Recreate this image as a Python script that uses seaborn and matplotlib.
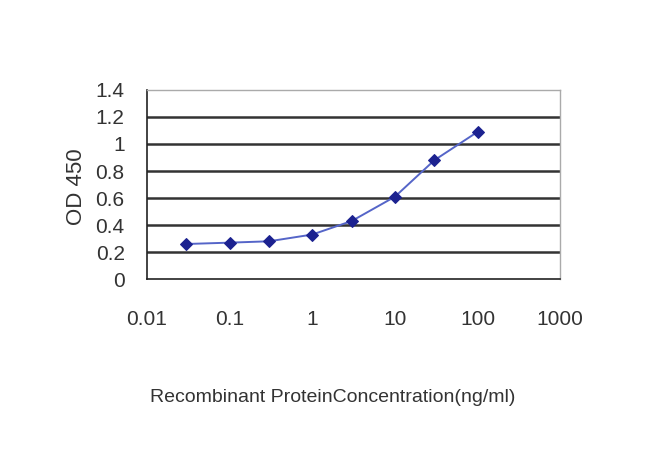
import matplotlib
matplotlib.use("Agg")
from matplotlib import pyplot as plt
import pandas as pd
import seaborn as sns

conc = [0.03, 0.1, 0.3, 1, 3, 10, 30, 100]
od450 = [0.26, 0.27, 0.28, 0.33, 0.43, 0.61, 0.88, 1.09]
xticks = [0.01, 0.1, 1, 10, 100, 1000]
xticklabels = ["0.01", "0.1", "1", "10", "100", "1000"]
yticks = [0, 0.2, 0.4, 0.6, 0.8, 1, 1.2, 1.4]
yticklabels = ["0", "0.2", "0.4", "0.6", "0.8", "1", "1.2", "1.4"]

df = pd.DataFrame({"conc": conc, "od": od450})

sns.set_style("white")
plt.rcParams["font.family"] = ["Liberation Sans", "DejaVu Sans"]

fig = plt.figure(figsize=(6.5, 4.66), dpi=100)
ax = fig.add_axes([0.226, 0.401, 0.636, 0.406])

sns.lineplot(data=df, x="conc", y="od", ax=ax, color="#5565c8", linewidth=1.4,
             marker="D", markersize=6, markerfacecolor="#1c2290",
             markeredgecolor="#1c2290")

ax.set_xscale("log")
ax.set_xlim(0.01, 1000)
ax.set_ylim(0, 1.4)
ax.set_xticks(xticks)
ax.set_xticklabels(xticklabels)
ax.minorticks_off()
ax.set_yticks(yticks)
ax.set_yticklabels(yticklabels)

for v in yticks[1:-1]:
    ax.axhline(v, color="#333333", linewidth=1.8, zorder=0)

ax.tick_params(axis="x", direction="out", length=4, width=1, color="#222222",
               labelsize=15, labelcolor="#333333", pad=18)
ax.tick_params(axis="y", length=0, labelsize=15, labelcolor="#333333", pad=16)

for side in ["left", "bottom"]:
    ax.spines[side].set_color("#222222")
    ax.spines[side].set_linewidth(1.2)
for side in ["top", "right"]:
    ax.spines[side].set_color("#aaaaaa")
    ax.spines[side].set_linewidth(1)

ax.set_xlabel("Recombinant ProteinConcentration(ng/ml)", fontsize=14, color="#333333")
ax.xaxis.set_label_coords(0.45, -0.58)
ax.set_ylabel("OD 450", fontsize=16, color="#333333")
ax.yaxis.set_label_coords(-0.146, 0.49)

fig.savefig("out.png", dpi=100, facecolor="white")
